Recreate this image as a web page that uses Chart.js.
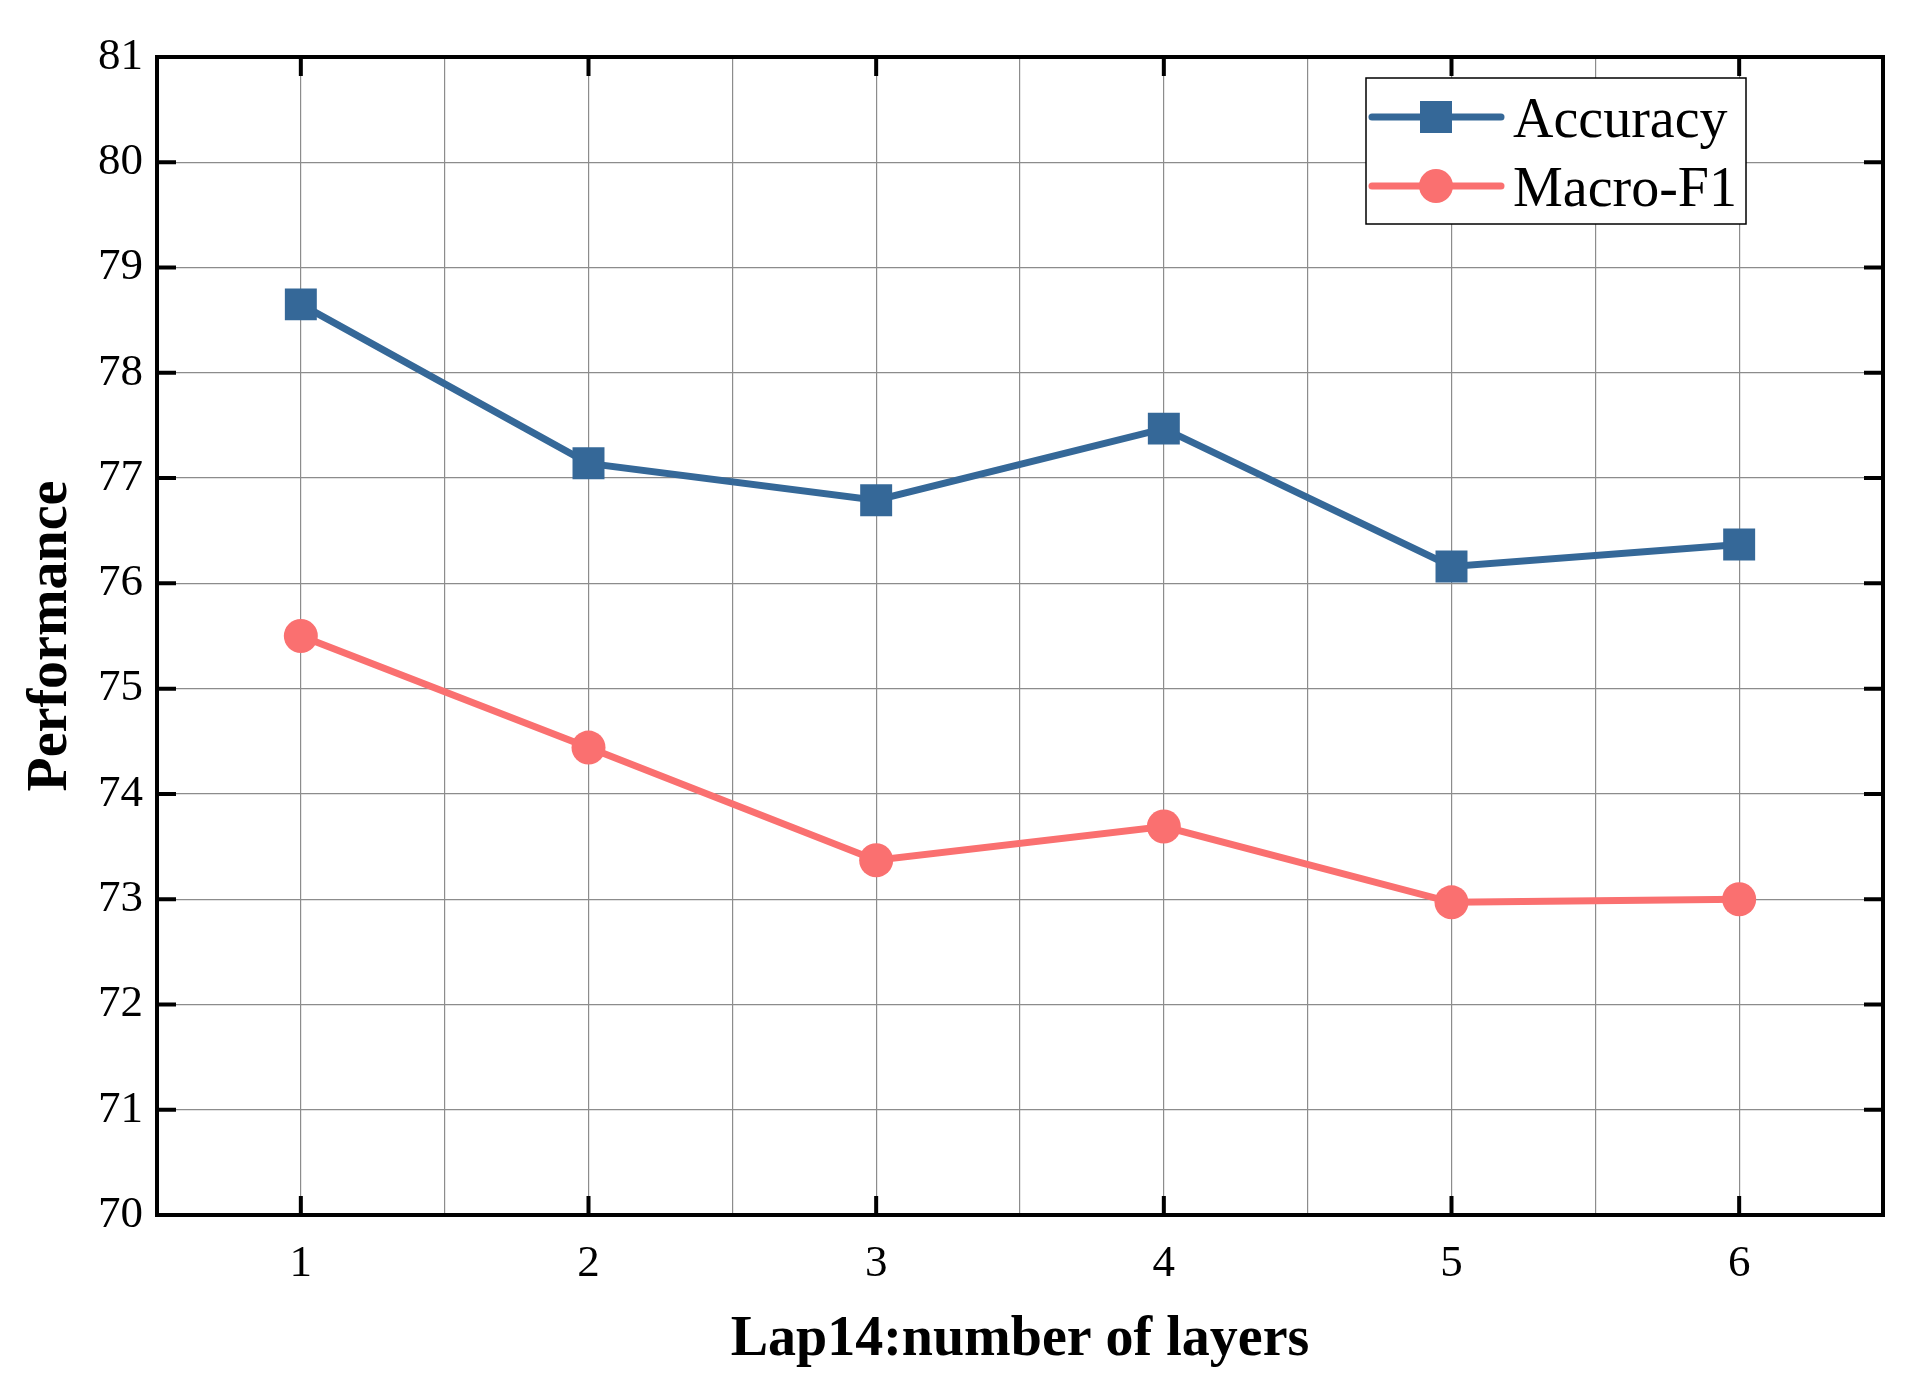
<!DOCTYPE html>
<html>
<head>
<meta charset="utf-8">
<script src="https://cdn.jsdelivr.net/npm/chart.js@4.4.1/dist/chart.umd.min.js"></script>
<style>
  html, body { margin: 0; padding: 0; background: #fff; }
  #wrap { width: 1925px; height: 1392px; }
</style>
</head>
<body>
<div id="wrap"><canvas id="chart" width="1925" height="1392"></canvas></div>
<script>
// data
const layers = [1, 2, 3, 4, 5, 6];
const accuracy = [78.65, 77.14, 76.79, 77.47, 76.16, 76.37];
const macroF1 = [75.50, 74.44, 73.37, 73.69, 72.97, 73.00];
const yTicks = [70, 71, 72, 73, 74, 75, 76, 77, 78, 79, 80, 81];

const BLUE = '#356898';
const RED = '#FA7070';
const SERIF = '"Liberation Serif", "Times New Roman", serif';

// frame, inward ticks and legend
const framePlugin = {
    id: 'frame',
    afterDraw(chart) {
        const ctx = chart.ctx;
        const a = chart.chartArea;
        const xs = chart.scales.x;
        const ys = chart.scales.y;
        ctx.save();
        ctx.strokeStyle = '#000';
        ctx.lineWidth = 4;
        ctx.strokeRect(a.left, a.top, a.right - a.left, a.bottom - a.top);

        // major ticks pointing inward
        ctx.beginPath();
        layers.forEach(v => {
            const px = xs.getPixelForValue(v);
            ctx.moveTo(px, a.bottom); ctx.lineTo(px, a.bottom - 19);
            ctx.moveTo(px, a.top); ctx.lineTo(px, a.top + 19);
        });
        yTicks.forEach(v => {
            if (v === 70 || v === 81) return;
            const py = ys.getPixelForValue(v);
            ctx.moveTo(a.left, py); ctx.lineTo(a.left + 19, py);
            ctx.moveTo(a.right, py); ctx.lineTo(a.right - 19, py);
        });
        ctx.stroke();

        // legend
        const bx = 1366, by = 78, bw = 380, bh = 146;
        ctx.fillStyle = '#fff';
        ctx.fillRect(bx, by, bw, bh);
        ctx.lineWidth = 1.5;
        ctx.strokeRect(bx, by, bw, bh);

        const rows = [
            { label: 'Accuracy', color: BLUE, style: 'rect', y: 117 },
            { label: 'Macro-F1', color: RED, style: 'circle', y: 186 }
        ];
        rows.forEach(r => {
            ctx.strokeStyle = r.color;
            ctx.lineWidth = 7;
            ctx.lineCap = 'round';
            ctx.beginPath();
            ctx.moveTo(1372, r.y); ctx.lineTo(1501, r.y);
            ctx.stroke();
            ctx.fillStyle = r.color;
            if (r.style === 'rect') {
                ctx.fillRect(1436 - 16, r.y - 16, 32, 32);
            } else {
                ctx.beginPath();
                ctx.arc(1436, r.y, 17, 0, Math.PI * 2);
                ctx.fill();
            }
            ctx.fillStyle = '#000';
            ctx.font = '56px ' + SERIF;
            ctx.textBaseline = 'middle';
            ctx.textAlign = 'left';
            ctx.fillText(r.label, 1513, r.y + 5);
        });
        ctx.restore();
    }
};

new Chart(document.getElementById('chart'), {
    type: 'line',
    data: {
        datasets: [
            {
                label: 'Accuracy',
                data: layers.map((x, i) => ({ x: x, y: accuracy[i] })),
                borderColor: BLUE,
                backgroundColor: BLUE,
                borderWidth: 7,
                pointStyle: 'rect',
                pointRadius: 22.6,
                pointHoverRadius: 22.6,
                pointBorderWidth: 0,
                tension: 0
            },
            {
                label: 'Macro-F1',
                data: layers.map((x, i) => ({ x: x, y: macroF1[i] })),
                borderColor: RED,
                backgroundColor: RED,
                borderWidth: 7,
                pointStyle: 'circle',
                pointRadius: 17,
                pointHoverRadius: 17,
                pointBorderWidth: 0,
                tension: 0
            }
        ]
    },
    options: {
        responsive: false,
        animation: false,
        devicePixelRatio: 1,
        layout: { padding: { top: 57, right: 42, left: 0, bottom: 0 } },
        plugins: {
            legend: { display: false },
            tooltip: { enabled: false }
        },
        scales: {
            x: {
                type: 'linear',
                min: 0.5,
                max: 6.5,
                afterFit: s => { s.height = 177; },
                grid: { color: '#8c8c8c', lineWidth: 1.2, drawTicks: false },
                border: { display: false },
                ticks: {
                    stepSize: 0.5,
                    padding: 22,
                    color: '#000',
                    font: { family: SERIF, size: 45 },
                    callback: v => Number.isInteger(v) ? String(v) : ''
                },
                title: {
                    display: true,
                    text: 'Lap14:number of layers',
                    color: '#000',
                    font: { family: SERIF, size: 56, weight: 'bold' },
                    padding: { top: 0, bottom: 18 }
                }
            },
            y: {
                min: 70,
                max: 81,
                afterFit: s => { s.width = 157; },
                grid: { color: '#8c8c8c', lineWidth: 1.2, drawTicks: false },
                border: { display: false },
                afterBuildTicks: s => { s.ticks = yTicks.map(v => ({ value: v })); },
                ticks: {
                    padding: 14,
                    color: '#000',
                    font: { family: SERIF, size: 45 }
                },
                title: {
                    display: true,
                    text: 'Performance',
                    color: '#000',
                    font: { family: SERIF, size: 56, weight: 'bold' },
                    padding: { top: 18, bottom: 0 }
                }
            }
        }
    },
    plugins: [framePlugin]
});
</script>
</body>
</html>
